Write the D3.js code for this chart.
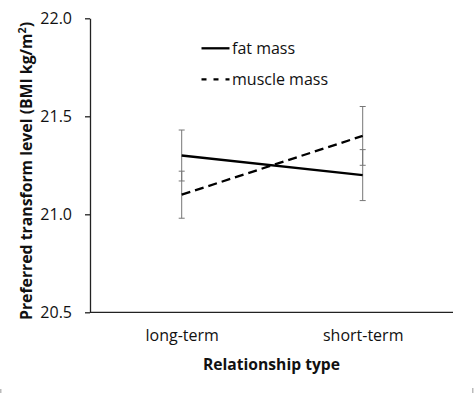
<!DOCTYPE html>
<html><head><meta charset="utf-8">
<script src="https://cdn.jsdelivr.net/npm/d3@7"></script>
<style>body{margin:0;background:#fff}svg{display:block}text{font-family:"Open Sans",sans-serif;fill:#111}</style>
</head><body>
<script>
const categories = ["long-term", "short-term"];
const fatMass = [21.3, 21.2];
const fatErr = [0.13, 0.13];
const muscleMass = [21.1, 21.4];
const muscleErr = [0.12, 0.15];
const yTicks = [20.5, 21.0, 21.5, 22.0];
const seriesNames = ["fat mass", "muscle mass"];

const W = 474, H = 393;
const svg = d3.select("body").append("svg").attr("width", W).attr("height", H);

const x = d3.scalePoint().domain(categories).range([181.7, 362.7]);
const y = d3.scaleLinear().domain([20.5, 22.0]).range([312.3, 18.3]);
const x0 = 90, x1 = 453;

// y axis
const yAxis = d3.axisLeft(y).tickValues(yTicks).tickFormat(d3.format(".1f")).tickSize(5).tickSizeOuter(0);
const gy = svg.append("g").attr("transform", `translate(${x0},0)`).call(yAxis);
gy.select(".domain").attr("stroke", "#222").attr("stroke-width", 1.3);
gy.selectAll(".tick line").attr("stroke", "#222").attr("stroke-width", 1.3);
gy.selectAll(".tick text").attr("x", -18).attr("font-size", 16).attr("fill", "#111")
  .style("font-family", "'Open Sans',sans-serif");

// x axis line
svg.append("line").attr("x1", x0).attr("x2", x1).attr("y1", y(20.5)).attr("y2", y(20.5))
  .attr("stroke", "#222").attr("stroke-width", 1.3);
const xAxis = d3.axisBottom(x).tickSize(0).tickSizeOuter(0);
const gx = svg.append("g").attr("transform", `translate(0,${y(20.5)})`).call(xAxis);
gx.select(".domain").remove();
gx.selectAll(".tick text").attr("y", 17).attr("font-size", 16).attr("fill", "#111")
  .style("font-family", "'Open Sans',sans-serif");

// error bars
function errBars(vals, errs) {
  categories.forEach((c, i) => {
    const cx = x(c), hi = y(vals[i] + errs[i]), lo = y(vals[i] - errs[i]);
    svg.append("line").attr("x1", cx).attr("x2", cx).attr("y1", hi).attr("y2", lo)
      .attr("stroke", "#777").attr("stroke-width", 1);
    [hi, lo].forEach(v => svg.append("line").attr("x1", cx - 3).attr("x2", cx + 3)
      .attr("y1", v).attr("y2", v).attr("stroke", "#777").attr("stroke-width", 1));
  });
}
errBars(fatMass, fatErr);
errBars(muscleMass, muscleErr);

const line = d3.line().x((d, i) => x(categories[i])).y(d => y(d));
svg.append("path").datum(fatMass).attr("d", line).attr("fill", "none")
  .attr("stroke", "#000").attr("stroke-width", 2.3);
svg.append("path").datum(muscleMass).attr("d", line).attr("fill", "none")
  .attr("stroke", "#000").attr("stroke-width", 2.3).attr("stroke-dasharray", "9,5");

// legend
const lg = [{name: seriesNames[0], dash: null, yy: 48.3}, {name: seriesNames[1], dash: "5,7", yy: 79.3}];
lg.forEach(l => {
  svg.append("line").attr("x1", 201.5).attr("x2", 229.5).attr("y1", l.yy).attr("y2", l.yy)
    .attr("stroke", "#000").attr("stroke-width", 2.3).attr("stroke-dasharray", l.dash);
  svg.append("text").attr("x", 232).attr("y", l.yy).attr("dy", "0.35em")
    .attr("font-size", 16).text(l.name);
});

// axis titles
svg.append("text").attr("x", 271.5).attr("y", 364.5).attr("dy", "0.35em").attr("text-anchor", "middle")
  .attr("font-size", 16.5).attr("font-weight", "bold").attr("textLength", 137).attr("lengthAdjust", "spacingAndGlyphs")
  .text("Relationship type");
svg.append("text").attr("transform", "translate(26.5,171) rotate(-90)").attr("dy", "0.35em")
  .attr("text-anchor", "middle").attr("font-size", 16.5).attr("font-weight", "bold")
  .attr("textLength", 298).attr("lengthAdjust", "spacingAndGlyphs")
  .html("Preferred transform level (BMI kg/m<tspan dy='-6' font-size='11'>2</tspan><tspan dy='6'>)</tspan>");

// corner marks
svg.append("rect").attr("x", 0).attr("y", 389).attr("width", 1.5).attr("height", 4).attr("fill", "#bbb");
svg.append("rect").attr("x", 472).attr("y", 388).attr("width", 1.5).attr("height", 5).attr("fill", "#bbb");
</script>
</body></html>
